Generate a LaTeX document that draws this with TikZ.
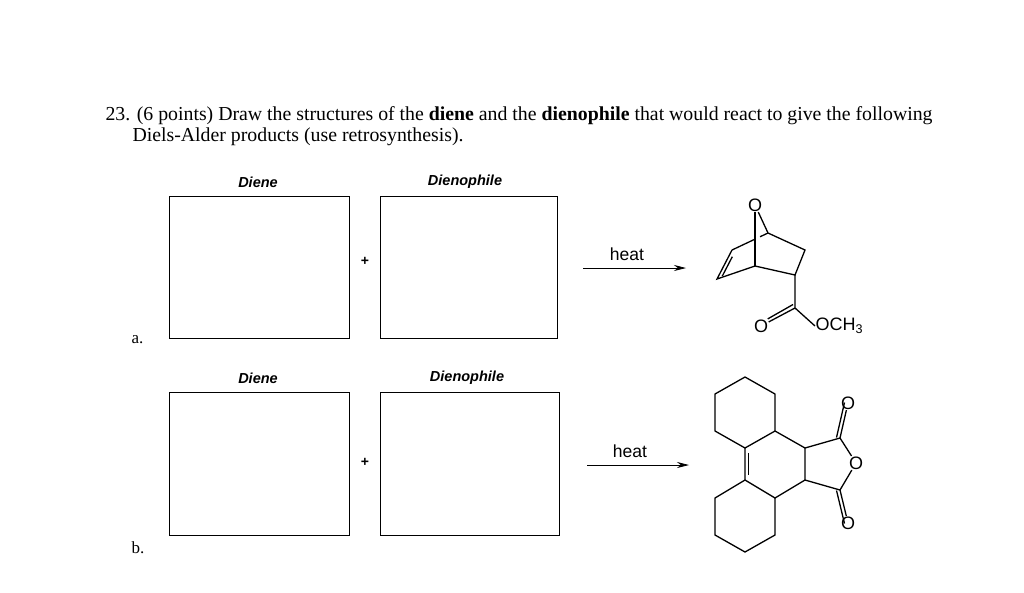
\documentclass[tikz,border=0pt]{standalone}
\usepackage{fontspec}
\setmainfont{Liberation Serif}
\setsansfont{Liberation Sans}
\usetikzlibrary{arrows.meta,calc}
\begin{document}
\begin{tikzpicture}[x=1pt,y=-1pt,
  box/.style={draw,line width=1pt},
  hdr/.style={font=\sffamily\bfseries\itshape\fontsize{14.5}{16}\selectfont},
  bd/.style={line width=1.3pt},
  atm/.style={font=\sffamily\fontsize{18}{20}\selectfont,inner sep=0.5pt},
  rx/.style={-{Stealth[length=12pt,width=6pt]},line width=0.8pt}]
\useasboundingbox (0,0) rectangle (1024,592);
\node[anchor=west,font=\fontsize{19.8}{22}\selectfont] (q1) at (102,116) {23. (6 points) Draw the structures of the \textbf{diene} and the \textbf{dienophile} that would react to give the following};
\node[anchor=west,font=\fontsize{19.8}{22}\selectfont] (q2) at (129,137) {Diels-Alder products (use retrosynthesis).};
\node[anchor=west,font=\fontsize{17}{19}\selectfont] (la) at (128,340) {a.};
\node[anchor=west,font=\fontsize{17}{19}\selectfont] (lb) at (128,548) {b.};
% boxes a
\draw[box] (169,196) rectangle (349,338);
\draw[box] (380,196) rectangle (557,338);
\node[hdr] (h1) at (258,182) {Diene};
\node[hdr] (h2) at (465,182) {Dienophile};
\node[font=\sffamily\bfseries\fontsize{14}{16}\selectfont] (p1) at (365,261) {+};
\coordinate (a1) at (583,268); \coordinate (a2) at (686,268);
\draw[rx] (a1) -- (a2);
\node[font=\sffamily\fontsize{17.5}{19}\selectfont] (ht1) at (627,254) {heat};
% boxes b
\draw[box] (169,392) rectangle (349,535);
\draw[box] (380,392) rectangle (559,535);
\node[hdr] (h3) at (258,378) {Diene};
\node[hdr] (h4) at (467,378) {Dienophile};
\node[font=\sffamily\bfseries\fontsize{14}{16}\selectfont] (p2) at (365,462) {+};
\coordinate (b1) at (587,465); \coordinate (b2) at (689,465);
\draw[rx] (b1) -- (b2);
\node[font=\sffamily\fontsize{17.5}{19}\selectfont] (ht2) at (630,451) {heat};
% molecule a
\node[atm] (O) at (755,205) {O};
\coordinate (C1) at (768,233);
\coordinate (C2) at (805,250);
\coordinate (C3) at (795,275);
\coordinate (C4) at (755,266);
\coordinate (C5) at (732,250);
\coordinate (C6) at (717,279);
\coordinate (Cc) at (795,308);
\node[atm] (Od) at (761,326) {O};
\node[atm,anchor=west] (Om) at (815,326) {OCH\textsubscript{3}};
\draw[bd] (O) -- (C1) -- (C2) -- (C3) -- (C4) -- (C6) -- (C5);
\draw[bd] (C5) -- ($(C5)!0.62!(C1)$);
\draw[bd] ($(C5)!0.78!(C1)$) -- (C1);
\draw[bd] (O) -- (C4);
\draw[bd] ($(C5)!0.18!(C6)+(3,1.5)$) -- ($(C5)!0.85!(C6)+(3,1.5)$);
\draw[bd] (C3) -- (Cc) -- (Om.west);
\draw[bd] (Cc) -- (Od);
\draw[bd] ($(Cc)+(-2,-3.5)$) -- ($(Od.north east)+(-1,0)$);
% molecule b
\coordinate (t1) at (745,377); \coordinate (t2) at (775,394); \coordinate (t3) at (775,431);
\coordinate (t4) at (745,448); \coordinate (t5) at (715,431); \coordinate (t6) at (715,394);
\coordinate (m3) at (805,448); \coordinate (m4) at (805,480); \coordinate (m5) at (775,498);
\coordinate (m6) at (745,480);
\coordinate (u3) at (775,535); \coordinate (u4) at (745,552); \coordinate (u5) at (715,535); \coordinate (u6) at (715,498);
\coordinate (k1) at (840,438); \coordinate (k2) at (840,490);
\node[atm] (Or) at (856,463) {O};
\node[atm] (Ot) at (848,403) {O};
\node[atm] (Ob) at (848,523) {O};
\draw[bd] (t1) -- (t2) -- (t3) -- (t4) -- (t5) -- (t6) -- cycle;
\draw[bd] (t3) -- (m3) -- (m4) -- (m5) -- (m6) -- (t4);
\draw[bd] (m5) -- (u3) -- (u4) -- (u5) -- (u6) -- (m6);
\draw[bd] ($(t4)+(3.5,5)$) -- ($(m6)+(3.5,-5)$);
\draw[bd] (m3) -- (k1) -- (Or) -- (k2) -- (m4);
\draw[bd] (k1) -- (Ot); \draw[bd] ($(k1)+(-3.5,-0.5)$) -- ($(Ot)+(-3.5,-0.5)$);
\draw[bd] (k2) -- (Ob); \draw[bd] ($(k2)+(-3.5,0.5)$) -- ($(Ob)+(-3.5,0.5)$);
\end{tikzpicture}
\end{document}
